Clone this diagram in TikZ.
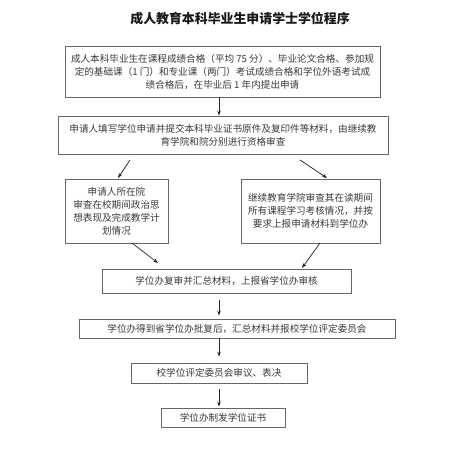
\documentclass[tikz,border=0pt]{standalone}
\usepackage{fontspec}
\newfontfamily\cjk{Noto Sans CJK SC}
\usetikzlibrary{arrows.meta}
\definecolor{boxgray}{HTML}{666666}
\definecolor{textgray}{HTML}{3A3A3A}
\begin{document}
\begin{tikzpicture}[x=1pt,y=-1pt,
  box/.style={draw=boxgray, line width=0.8pt, inner sep=0pt, text=textgray,
    font=\cjk\fontsize{9.6}{13}\selectfont, align=center},
  arr/.style={draw=black!85, line width=0.7pt, -{Stealth[length=5pt,width=3.6pt]}},
  titlestyle/.style={font=\cjk\bfseries\fontsize{12.9}{15}\selectfont, text=black!90, inner sep=0pt}]
\useasboundingbox[fill=white] (0,0) rectangle (474,469);

\node[titlestyle] (title) at (240,19) {成人教育本科毕业生申请学士学位程序};

\node[box, minimum width=315pt, minimum height=51pt] (b1) at (222.5,71.5)
  {成人本科毕业生在课程成绩合格（平均 75 分）、毕业论文合格、参加规\\定的基础课（1 门）和专业课（两门）考试成绩合格和学位外语考试成\\绩合格后，在毕业后 1 年内提出申请};
\node[box, minimum width=330pt, minimum height=38pt] (b2) at (223,135)
  {申请人填写学位申请并提交本科毕业证书原件及复印件等材料，由继续教\\育学院和院分别进行资格审查};
\node[box, minimum width=103pt, minimum height=64pt] (b3l) at (116.5,211)
  {申请人所在院\\审查在校期间政治思\\想表现及完成教学计\\划情况};
\node[box, minimum width=139pt, minimum height=64pt] (b3r) at (310.5,211)
  {继续教育学院审查其在读期间\\所有课程学习考核情况，并按\\要求上报申请材料到学位办};
\node[box, minimum width=249pt, minimum height=24pt] (b4) at (226.5,281)
  {学位办复审并汇总材料，上报省学位办审核};
\node[box, minimum width=316pt, minimum height=19pt] (b5) at (237,328.5)
  {学位办得到省学位办批复后，汇总材料并报校学位评定委员会};
\node[box, minimum width=176pt, minimum height=20pt] (b6) at (219,373)
  {校学位评定委员会审议、表决};
\node[box, minimum width=124pt, minimum height=19pt] (b7) at (223,417.5)
  {学位办制发学位证书};

\coordinate (ax) at (219,0);
\coordinate (s2) at (130,160);
\coordinate (e2) at (118,178);
\coordinate (s3) at (300,160);
\coordinate (e3) at (327,178);
\coordinate (s4) at (132,243);
\coordinate (e4) at (158,263);
\coordinate (s5) at (320,243);
\coordinate (e5) at (302,268);

\draw[arr] (b1.south -| ax) -- (b2.north -| ax);
\draw[arr] (s2) -- (e2);
\draw[arr] (s3) -- (e3);
\draw[arr] (s4) -- (e4);
\draw[arr] (s5) -- (e5);
\draw[arr, shorten <=7pt, shorten >=3pt] (b4.south -| ax) -- (b5.north -| ax);
\draw[arr, shorten >=6pt] (b5.south -| ax) -- (b6.north -| ax);
\draw[arr, shorten <=6pt, shorten >=1pt] (b6.south -| ax) -- (b7.north -| ax);
\end{tikzpicture}
\end{document}
